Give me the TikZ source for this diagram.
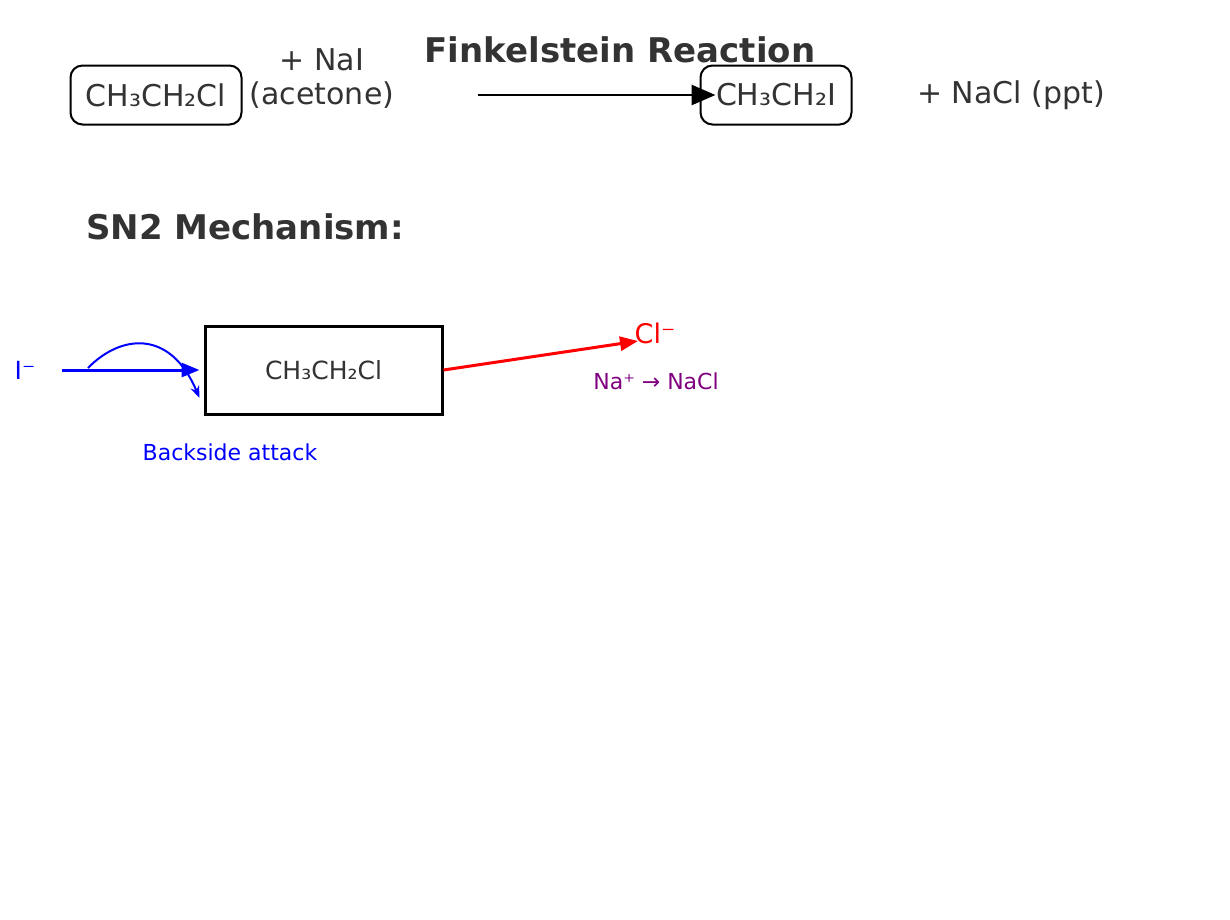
\documentclass[tikz,border=0pt]{standalone}
\usepackage{fontspec}
\setmainfont{DejaVu Sans}
\usetikzlibrary{arrows.meta}
\definecolor{txt}{HTML}{333333}
\definecolor{purp}{HTML}{800080}
\begin{document}
\begin{tikzpicture}[x=1pt,y=-1pt,
  big/.style={text=txt,font=\fontsize{30}{36}\selectfont,inner sep=0pt},
  rbox/.style={draw,line width=2pt,rounded corners=12pt,minimum height=59pt,inner sep=0pt},
  tip/.style={-{Triangle[length=24pt,width=20pt]}},
  stip/.style={-{Triangle[length=18pt,width=14pt]}}]
\useasboundingbox (0,0) rectangle (1230,919);
\node[big,font=\bfseries\fontsize{34}{40}\selectfont] (title) at (620,50) {Finkelstein Reaction};
\node[big,rbox,minimum width=171pt] (r) at (156,95) {CH₃CH₂Cl};
\node[big] (nai) at (322,60) {+ NaI};
\node[big] (ac) at (322,95) {(acetone)};
\coordinate (a0) at (478,95);
\node[big,rbox,minimum width=151pt] (p) at (776,95) {CH₃CH₂I};
\draw[line width=2.8pt,tip] (a0) -- ([xshift=16pt]p.west);
\node[big] (nacl) at (1011,95) {+ NaCl (ppt)};
\node[big,font=\bfseries\fontsize{34}{40}\selectfont,anchor=west] (sn2) at (86,227) {SN2 Mechanism:};
\node[draw,line width=3pt,minimum width=237pt,minimum height=88pt,text=txt,font=\fontsize{25}{30}\selectfont] (sub) at (323.5,370) {CH₃CH₂Cl};
\node[text=blue,font=\fontsize{25}{30}\selectfont] (i) at (25,370) {I⁻};
\coordinate (b0) at (62,370);
\draw[blue,line width=3pt,stip] (b0) -- ([xshift=-4pt]sub.west);
\coordinate (c0) at (88,368);
\draw[blue,line width=2pt,-{Stealth[length=12pt,width=9pt]}] (c0) .. controls (120,335) and (170,328) .. ([xshift=-4pt,yshift=-28pt]sub.west);
\node[text=red,font=\fontsize{27}{32}\selectfont] (cl) at (655,333) {Cl⁻};
\coordinate (ce) at (638,341);
\draw[red,line width=3pt,stip] (sub.east) -- (ce);
\node[text=purp,font=\fontsize{22}{26}\selectfont] (na) at (656,381) {Na⁺ → NaCl};
\node[text=blue,font=\fontsize{22}{26}\selectfont] (bs) at (230,452) {Backside attack};
\end{tikzpicture}
\end{document}
